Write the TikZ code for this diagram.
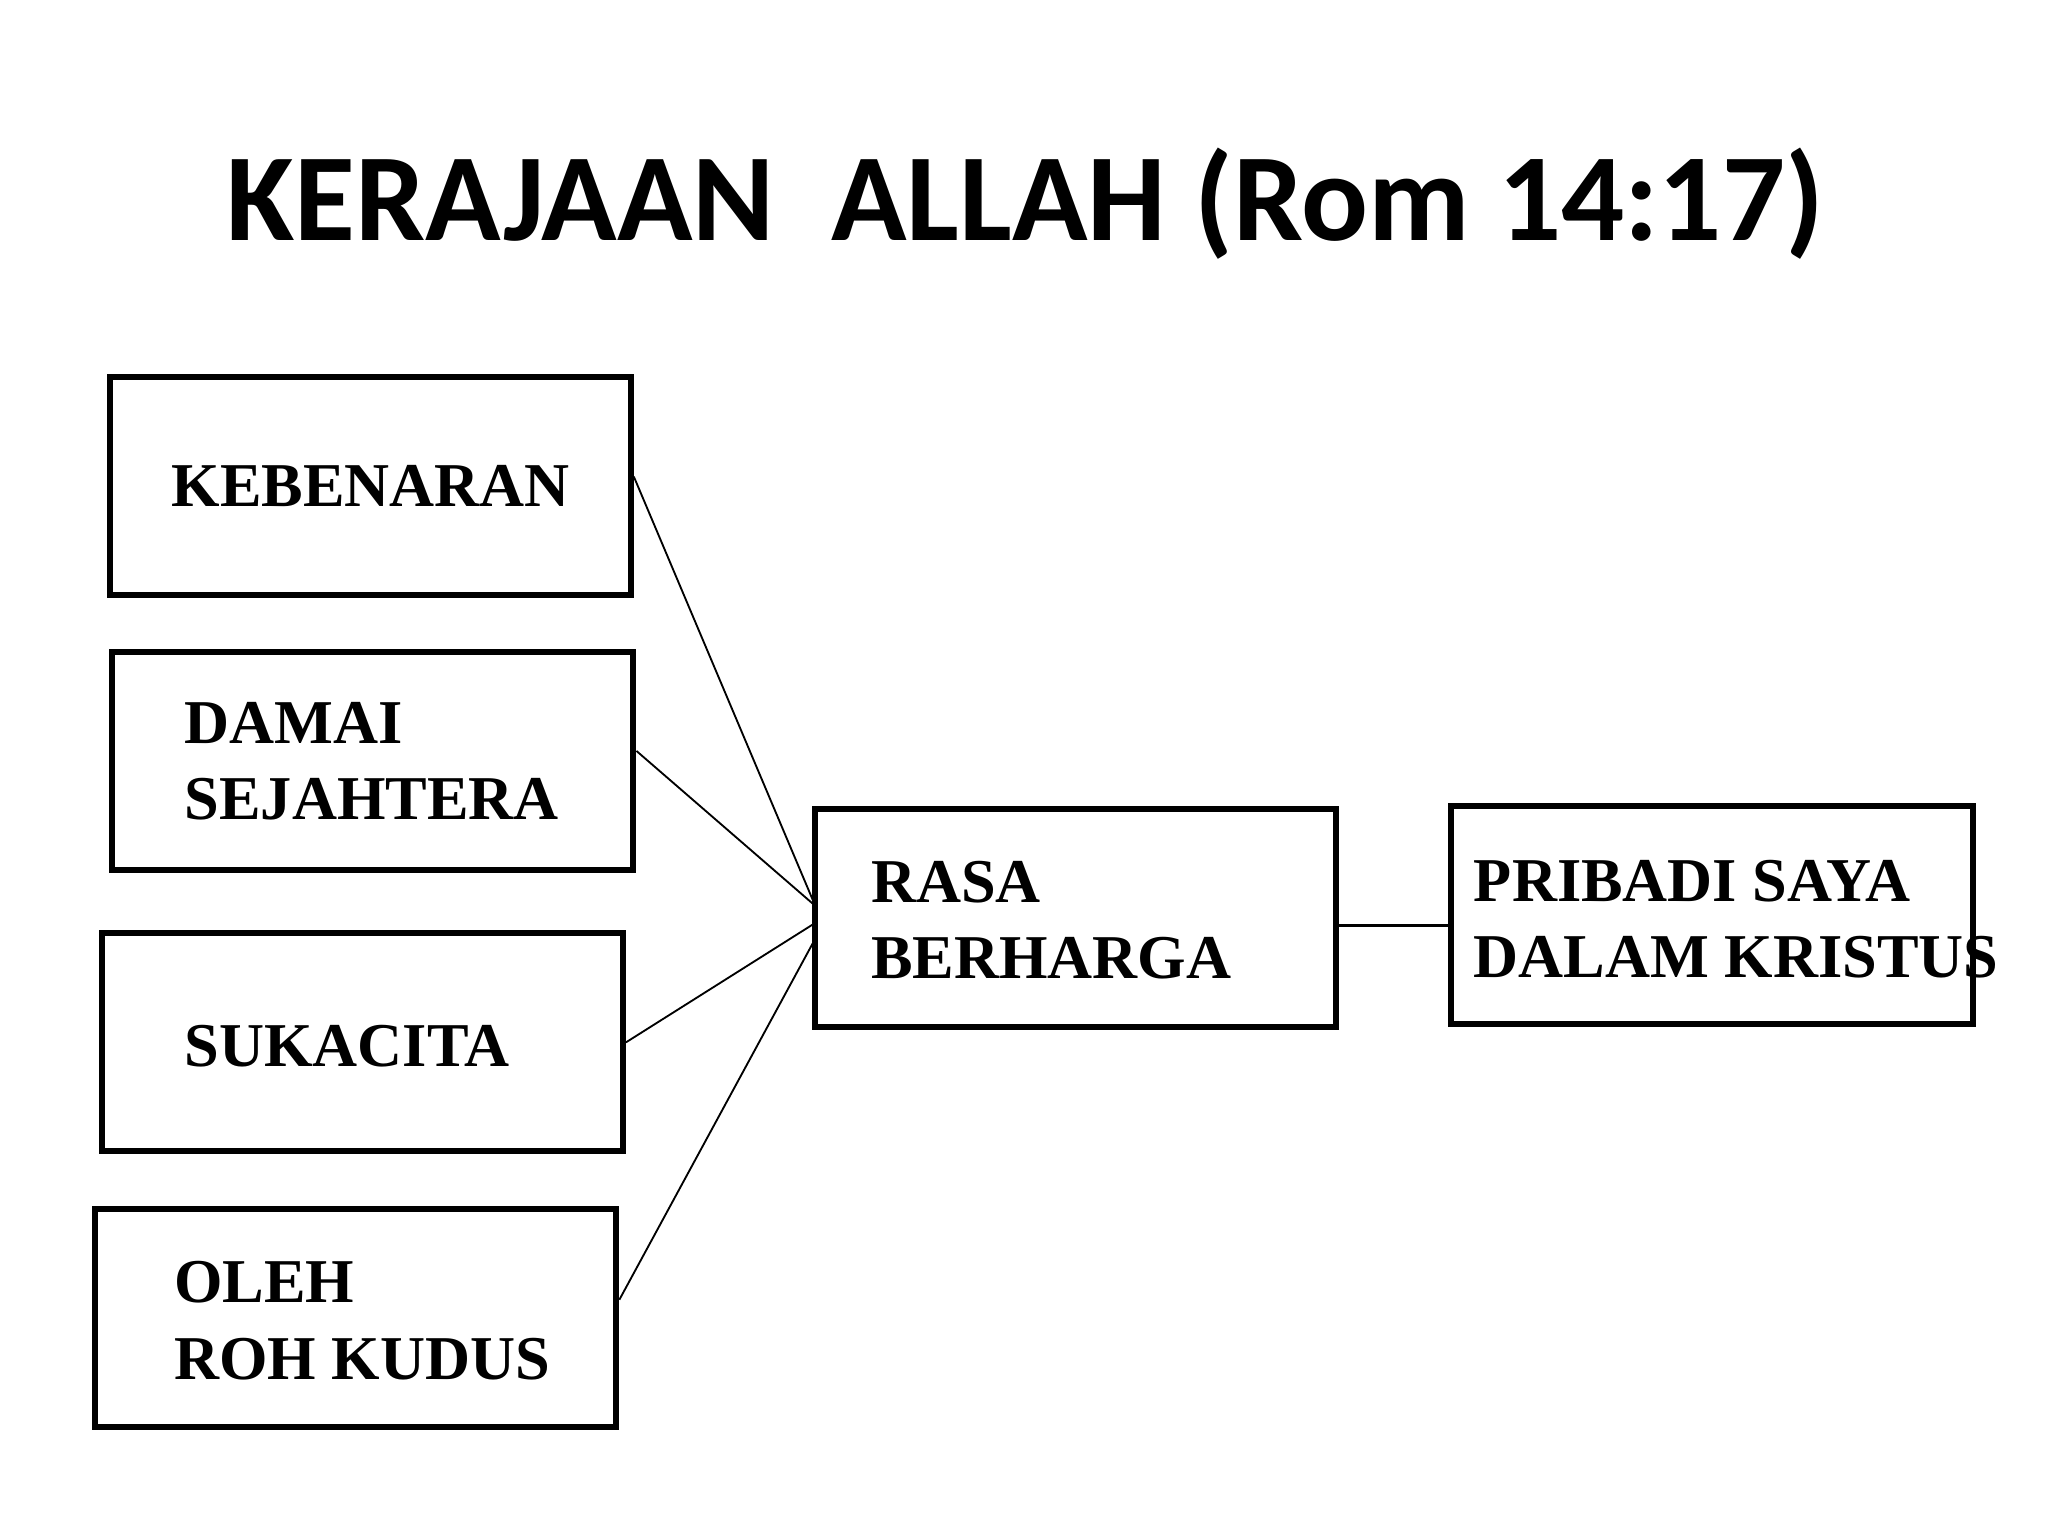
\documentclass[tikz,border=0pt]{standalone}
\usepackage{fontspec}
\setmainfont{Liberation Serif}
\newfontfamily\titlefont{Carlito}
\begin{document}
\begin{tikzpicture}[x=0.01cm,y=-0.01cm,
  box/.style={draw,line width=1.3pt,minimum width=397*0.01cm,minimum height=166*0.01cm,inner sep=0},
  lbl/.style={anchor=west,font=\fontsize{13.5}{16.5}\selectfont\bfseries,align=left,inner sep=0},
  conn/.style={line width=0.4pt}]
\useasboundingbox[fill=white] (0,0) rectangle (1560,1170);
\node[font=\titlefont\fontsize{27}{32}\selectfont\bfseries] (title) at (781,155) {KERAJAAN\ \ ALLAH (Rom 14:17)};
\node[box] (k) at (282,370) {};
\node[box] (d) at (284,580) {};
\node[box] (s) at (276,794) {};
\node[box] (o) at (271,1004) {};
\node[box] (r) at (819,699) {};
\node[box] (p) at (1304,697) {};
\node[lbl] (kt) at (130,370) {KEBENARAN};
\node[lbl] (dt) at (140,580) {DAMAI\\SEJAHTERA};
\node[lbl] (st) at (140,797) {SUKACITA};
\node[lbl] (ot) at (132,1006) {OLEH\\ROH KUDUS};
\node[lbl] (rt) at (663,701) {RASA\\BERHARGA};
\node[lbl] (pt) at (1122,700) {PRIBADI SAYA\\DALAM KRISTUS};
\coordinate (c1) at (621,690);
\coordinate (c3) at (621,703);
\coordinate (c4) at (621,715);
\draw[conn] (k.east) ++(0,-7) -- (c1);
\draw[conn] (d.east) ++(0,-8) -- (c1);
\draw[conn] (s.east) -- (c3);
\draw[conn] (o.east) ++(0,-14) -- (c4);
\draw[conn,line width=0.8pt] (r.east |- 0,705) -- (p.west |- 0,705);
\end{tikzpicture}
\end{document}
